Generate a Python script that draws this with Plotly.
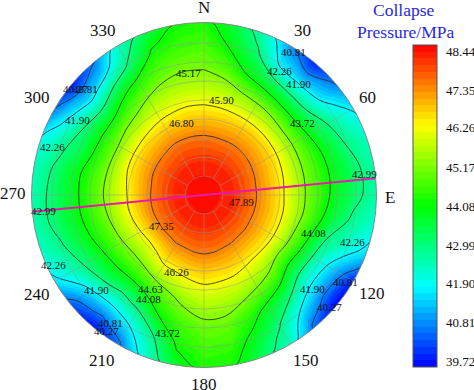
import numpy as np
import plotly.graph_objects as go

W, H = 474, 390
CX, CY, R = 204.0, 195.0, 172.5

# ring radius and azimuth (degrees clockwise from north)
ring_px = [0, 30, 55, 80, 105, 130, 150, 160, 172.5]
azimuth_deg = [0, 10, 20, 30, 40, 50, 60, 70, 80, 90, 100, 110, 120, 130, 140, 150, 160, 170, 180,
               190, 200, 210, 220, 230, 240, 250, 260, 270, 280, 290, 300, 310, 320, 330, 340, 350]
centre_pressure = 48.44
# one row per azimuth, values at ring_px[1:]
pressure_by_azimuth = [
    [48.17, 47.52, 46.62, 45.75, 45.03, 44.69, 44.52, 44.30],
    [48.15, 47.49, 46.59, 45.64, 44.71, 44.03, 43.80, 43.55],
    [48.15, 47.46, 46.58, 45.43, 43.92, 43.25, 42.93, 42.58],
    [48.15, 47.46, 46.58, 45.23, 43.48, 41.90, 41.51, 41.04],
    [48.14, 47.43, 46.56, 45.09, 43.19, 41.54, 40.81, 40.00],
    [48.13, 47.40, 46.52, 44.94, 43.18, 41.80, 41.36, 40.81],
    [48.12, 47.35, 46.45, 44.97, 43.49, 42.63, 42.26, 41.79],
    [48.10, 47.31, 46.37, 44.98, 43.83, 42.99, 42.72, 42.40],
    [48.09, 47.27, 46.30, 44.99, 43.94, 43.26, 42.95, 42.60],
    [48.09, 47.27, 46.26, 44.98, 43.89, 43.25, 42.95, 42.60],
    [48.09, 47.27, 46.30, 44.94, 43.61, 42.83, 42.60, 42.30],
    [48.09, 47.27, 46.30, 44.71, 42.99, 42.37, 42.05, 41.60],
    [48.09, 47.27, 46.30, 44.54, 42.53, 41.38, 40.81, 40.00],
    [48.10, 47.30, 46.26, 44.41, 42.47, 41.22, 40.55, 39.75],
    [48.10, 47.30, 46.26, 44.95, 43.24, 41.90, 41.30, 40.60],
    [48.12, 47.35, 46.37, 45.25, 43.78, 43.05, 42.75, 42.45],
    [48.13, 47.39, 46.50, 45.52, 44.46, 43.83, 43.58, 43.30],
    [48.15, 47.46, 46.54, 45.66, 44.97, 44.60, 44.41, 44.20],
    [48.15, 47.49, 46.59, 45.71, 45.00, 44.66, 44.49, 44.30],
    [48.15, 47.46, 46.49, 45.46, 44.66, 44.27, 44.02, 43.66],
    [48.14, 47.39, 46.35, 45.07, 44.08, 42.93, 42.60, 42.28],
    [48.13, 47.37, 46.26, 44.72, 43.12, 41.90, 41.33, 40.60],
    [48.10, 47.30, 45.92, 44.48, 42.79, 41.40, 40.67, 39.85],
    [48.10, 47.30, 45.73, 44.49, 43.15, 41.67, 41.10, 40.40],
    [48.10, 47.28, 45.86, 44.58, 43.35, 42.53, 42.18, 41.70],
    [48.10, 47.30, 46.00, 44.71, 43.69, 42.94, 42.68, 42.37],
    [48.10, 47.30, 46.11, 44.87, 43.85, 43.21, 42.92, 42.57],
    [48.10, 47.30, 46.12, 44.97, 43.86, 43.21, 42.92, 42.57],
    [48.10, 47.30, 46.20, 44.91, 43.86, 43.13, 42.81, 42.45],
    [48.12, 47.35, 46.30, 44.81, 43.47, 42.79, 42.38, 41.90],
    [48.14, 47.38, 46.35, 44.78, 43.39, 42.20, 41.58, 40.81],
    [48.15, 47.40, 46.39, 44.99, 43.23, 41.58, 40.94, 39.90],
    [48.15, 47.44, 46.47, 45.17, 43.83, 42.20, 41.38, 40.77],
    [48.17, 47.52, 46.53, 45.50, 44.33, 43.10, 42.74, 42.34],
    [48.17, 47.52, 46.56, 45.66, 44.82, 44.23, 43.90, 43.45],
    [48.17, 47.52, 46.62, 45.73, 45.02, 44.55, 44.40, 44.15],
]
outside_px = 198      # hidden ring just outside the disc, closes the contour bands
outside_pressure = 39.73

z_min, z_max = 39.72, 48.44
n_bands = 48
bar_labels = ["48.44", "47.35", "46.26", "45.17", "44.08", "42.99", "41.90", "40.81", "39.72"]
bar_label_y = [52, 90, 128, 167, 206, 245, 283, 322, 361]
grid_azimuths = [0, 30, 60, 90, 120, 150, 180, 210, 240, 270, 300, 330]
grid_rings_px = [19, 38, 57, 76, 95, 114, 133, 152]
section_azimuth = 84.4

dir_labels = [("N", 204, 7), ("30", 302, 31), ("60", 367, 97), ("E", 390, 197), ("120", 372, 293),
              ("150", 306, 360), ("180", 204, 384), ("210", 102, 360), ("240", 37, 294),
              ("270", 13, 193), ("300", 37, 97), ("330", 103, 31)]
value_labels = [("45.17", 188, 73), ("45.90", 221, 100), ("46.80", 181, 123), ("40.27", 75, 89),
                ("40.81", 85, 89), ("41.90", 77, 120), ("42.26", 52, 147), ("40.81", 293, 52),
                ("42.26", 279, 71), ("41.90", 298, 84), ("43.72", 302, 123), ("42.99", 364, 174),
                ("42.99", 43, 211), ("42.26", 53, 265), ("41.90", 96, 290), ("40.81", 110, 323),
                ("40.27", 106, 331), ("44.63", 150, 289), ("44.08", 148, 299), ("43.72", 167, 333),
                ("46.26", 176, 272), ("47.35", 161, 226), ("47.89", 241, 202), ("44.08", 313, 233),
                ("42.26", 352, 242), ("40.81", 345, 282), ("41.90", 312, 289), ("40.27", 329, 307)]

colorscale = [[0, "rgb(0,0,255)"], [0.25, "rgb(0,255,255)"], [0.5, "rgb(0,255,0)"],
              [0.75, "rgb(255,255,0)"], [1, "rgb(255,0,0)"]]

# polar mesh as a carpet: a = ring, b = azimuth (closed with a repeat of the first azimuth)
a_vals = np.array(ring_px + [outside_px]) / R
b_vals = np.array(azimuth_deg + [360.0])
AA, BB = np.meshgrid(a_vals, b_vals)
mesh_x = AA * np.sin(np.radians(BB))
mesh_y = AA * np.cos(np.radians(BB))
rows = pressure_by_azimuth + [pressure_by_azimuth[0]]
z = [[centre_pressure] + list(r) + [outside_pressure] for r in rows]

hidden = dict(showgrid=False, showline=False, showticklabels="none", startline=False, endline=False,
              minorgridcount=0, smoothing=1, title=dict(text=""))

fig = go.Figure()
fig.add_trace(go.Carpet(carpet="disc", a=a_vals, b=b_vals, x=mesh_x, y=mesh_y,
                        aaxis=hidden, baxis=hidden))
fig.add_trace(go.Contourcarpet(
    carpet="disc", a=a_vals, b=b_vals, z=z, colorscale=colorscale, zmin=z_min, zmax=z_max,
    contours=dict(coloring="fill", start=z_min, end=z_max, size=(z_max - z_min) / n_bands, showlines=False),
    line=dict(width=0, smoothing=1),
    colorbar=dict(
        x=413 / W, xanchor="left", xref="paper", y=1 - 367 / H, yanchor="bottom", yref="paper",
        len=322, lenmode="pixels", thickness=24, thicknessmode="pixels",
        outlinecolor="#555", outlinewidth=1, showticklabels=False, ticks="", xpad=0, ypad=0,
    ),
))
fig.add_trace(go.Contourcarpet(
    carpet="disc", a=a_vals, b=b_vals, z=z, showscale=False, zmin=z_min, zmax=z_max,
    contours=dict(coloring="none", start=40.81, end=47.35, size=1.09),
    line=dict(color="rgba(35,35,35,0.8)", width=1, smoothing=1),
))

# polar grid
th = np.linspace(0, 2 * np.pi, 181)
gx, gy = [], []
for r in grid_rings_px:
    gx += list(r / R * np.cos(th)) + [None]
    gy += list(r / R * np.sin(th)) + [None]
for az in grid_azimuths:
    t = np.radians(az)
    r0 = grid_rings_px[0] / R
    gx += [r0 * np.sin(t), np.sin(t), None]
    gy += [r0 * np.cos(t), np.cos(t), None]
fig.add_trace(go.Scatter(x=gx, y=gy, mode="lines", line=dict(color="rgba(150,150,150,0.5)", width=1),
                         hoverinfo="skip", showlegend=False))

t = np.radians(section_azimuth)
fig.add_trace(go.Scatter(x=[-np.sin(t), np.sin(t)], y=[-np.cos(t), np.cos(t)], mode="lines",
                         line=dict(color="rgb(235,25,170)", width=2), hoverinfo="skip", showlegend=False))

# white surround that hides the closing ring
circ = np.linspace(2 * np.pi, 0, 361)
side = outside_px / R + 0.02
path = f"M {-side} {-side} L {side} {-side} L {side} {side} L {-side} {side} Z M " + " L ".join(
    f"{np.cos(a):.5f} {np.sin(a):.5f}" for a in circ) + " Z"
shapes = [dict(type="path", path=path, xref="x", yref="y", fillcolor="white", line=dict(width=0), layer="above"),
          dict(type="circle", x0=-1, x1=1, y0=-1, y1=1, xref="x", yref="y",
               line=dict(color="#888", width=1), layer="above")]

def label(txt, px, py, size, color="#111", xanchor="center"):
    return dict(text=txt, x=px / W, y=1 - py / H, xref="paper", yref="paper", showarrow=False,
                xanchor=xanchor, yanchor="middle", font=dict(family="Liberation Serif", size=size, color=color))

ann = [label(t_, x_, y_, 17) for t_, x_, y_ in dir_labels]
ann += [label(t_, x_, y_, 11) for t_, x_, y_ in value_labels]
ann += [label(t_, 444, y_, 13, xanchor="left") for t_, y_ in zip(bar_labels, bar_label_y)]
ann += [label("Collapse", 403, 10, 17.5, "rgb(40,40,225)"), label("Pressure/MPa", 405, 32, 17.5, "rgb(40,40,225)")]

fig.update_layout(
    width=W, height=H, margin=dict(l=0, r=0, t=0, b=0), paper_bgcolor="white", plot_bgcolor="white",
    xaxis=dict(visible=False, range=[(0 - CX) / R, (W - CX) / R], fixedrange=True),
    yaxis=dict(visible=False, range=[(CY - H) / R, CY / R], fixedrange=True),
    shapes=shapes, annotations=ann, showlegend=False,
)
fig.write_html("out.html", config={"displayModeBar": False},
               post_script="document.body.style.margin='0';document.documentElement.style.overflow='hidden';")
